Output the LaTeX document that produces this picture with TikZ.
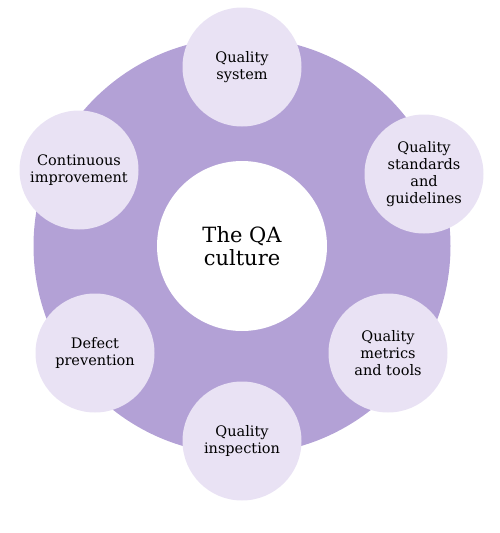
\documentclass[tikz,border=0pt]{standalone}
\usepackage{fontspec}
\setmainfont{DejaVu Serif}
\usepackage{tikz}
\usetikzlibrary{positioning}

\definecolor{ringpurple}{HTML}{B3A1D6}
\definecolor{lightlilac}{HTML}{E9E2F4}

\begin{document}
\begin{tikzpicture}[
    x=1pt, y=-1pt,
    ring/.style={circle, fill=ringpurple, minimum size=417pt, inner sep=0pt},
    hub/.style={circle, fill=white, minimum size=170pt, inner sep=0pt, align=center, font=\fontsize{21}{23}\selectfont},
    topic/.style={circle, fill=lightlilac, minimum size=119pt, inner sep=0pt, align=center, font=\fontsize{14.5}{17}\selectfont}
]
    \useasboundingbox (0,0) rectangle (500,533);

    % Ring and centre
    \node[ring] (ringbg) at (242,246) {};
    \node[hub] (culture) at (242,246) {The QA\\culture};

    % Topics around the ring
    \node[topic] (system) at (242,67) {Quality\\system};
    \node[topic] (standards) at (424,174) {Quality\\standards\\and\\guidelines};
    \node[topic] (metrics) at (388,353) {Quality\\metrics\\and tools};
    \node[topic] (inspection) at (242,441) {Quality\\inspection};
    \node[topic] (prevention) at (95,353) {Defect\\prevention};
    \node[topic] (improvement) at (79,170) {Continuous\\improvement};
\end{tikzpicture}
\end{document}
